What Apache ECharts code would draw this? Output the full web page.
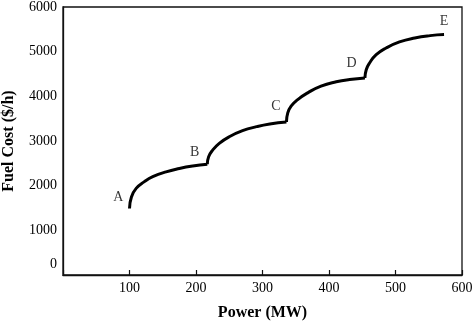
<!DOCTYPE html>
<html>
<head>
<meta charset="utf-8">
<script src="https://cdn.jsdelivr.net/npm/echarts@6/dist/echarts.min.js"></script>
<style>html,body{margin:0;padding:0;background:#fff}#c{width:474px;height:322px}</style>
</head>
<body>
<div id="c"></div>
<script>
// Segment A-B
const powerAB = [100, 103, 110, 122, 135, 155, 175, 195, 217];
const costAB  = [1490, 1750, 1940, 2085, 2200, 2310, 2385, 2440, 2480];
// Segment B-C
const powerBC = [217, 219, 225, 235, 250, 270, 291, 311, 336];
const costBC  = [2480, 2647, 2797, 2948, 3096, 3231, 3321, 3382, 3427];
// Segment C-D
const powerCD = [336, 338, 343, 353, 368, 388, 411, 431, 454];
const costCD  = [3427, 3629, 3779, 3928, 4078, 4229, 4326, 4377, 4412];
// Segment D-E
const powerDE = [454, 456, 461, 471, 486, 506, 529, 552, 573];
const costDE  = [4412, 4595, 4746, 4932, 5083, 5218, 5307, 5359, 5382];
// Point labels
const labelNames = ['A', 'B', 'C', 'D', 'E'];
const labelPower = [83, 198, 320, 434, 573];
const labelCost  = [1730, 2750, 3780, 4750, 5680];

const xTicks = [0, 100, 200, 300, 400, 500, 600];
const yTicks = [0, 1000, 2000, 3000, 4000, 5000, 6000];

const zip = (a, b) => a.map((v, i) => [v, b[i]]);
const segs = [[powerAB, costAB], [powerBC, costBC], [powerCD, costCD], [powerDE, costDE]];
const font = '"Liberation Serif", "DejaVu Serif", serif';

const chart = echarts.init(document.getElementById('c'), null, {renderer: 'canvas'});
chart.setOption({
  animation: false,
  backgroundColor: '#fff',
  grid: {left: 63, right: 12, top: 7, bottom: 47, containLabel: false, outerBoundsMode: 'none',
    show: true, borderColor: '#111', borderWidth: 1.3, backgroundColor: 'transparent'},
  xAxis: {
    type: 'value', min: xTicks[0], max: xTicks[xTicks.length - 1], interval: 100,
    name: 'Power (MW)', nameLocation: 'middle', nameGap: 30,
    nameTextStyle: {fontFamily: font, fontWeight: 'bold', fontSize: 16, color: '#000'},
    axisLine: {show: true, lineStyle: {color: '#111', width: 1.3}},
    axisTick: {show: true, inside: true, length: 5, lineStyle: {color: '#111', width: 1.2}},
    axisLabel: {fontFamily: font, fontSize: 14, color: '#000', margin: 6,
      formatter: v => v === 0 ? '' : String(v)},
    splitLine: {show: false}
  },
  yAxis: {
    type: 'value', min: yTicks[0], max: yTicks[yTicks.length - 1], interval: 1000,
    name: 'Fuel Cost ($/h)', nameLocation: 'middle', nameGap: 46,
    nameTextStyle: {fontFamily: font, fontWeight: 'bold', fontSize: 16, color: '#000'},
    axisLine: {show: true, lineStyle: {color: '#111', width: 1.3}},
    axisTick: {show: false},
    axisLabel: {fontFamily: font, fontSize: 14, color: '#000', margin: 6,
      formatter: v => v === 0 ? '{z|0}' : String(v),
      rich: {z: {fontFamily: font, fontSize: 14, color: '#000', padding: [0, 0, 22, 0]}}},
    splitLine: {show: false}
  },
  series: segs.map(s => ({
    type: 'line', data: zip(s[0], s[1]), showSymbol: false, symbol: 'none',
    smooth: 0.5,
    lineStyle: {color: '#000', width: 3}
  })).concat([{
    type: 'scatter', symbolSize: 0,
    data: labelNames.map((n, i) => ({name: n, value: [labelPower[i], labelCost[i]]})),
    label: {show: true, position: 'inside', formatter: p => p.name,
      fontFamily: font, fontSize: 14, color: '#000'}
  }])
});
</script>
</body>
</html>
